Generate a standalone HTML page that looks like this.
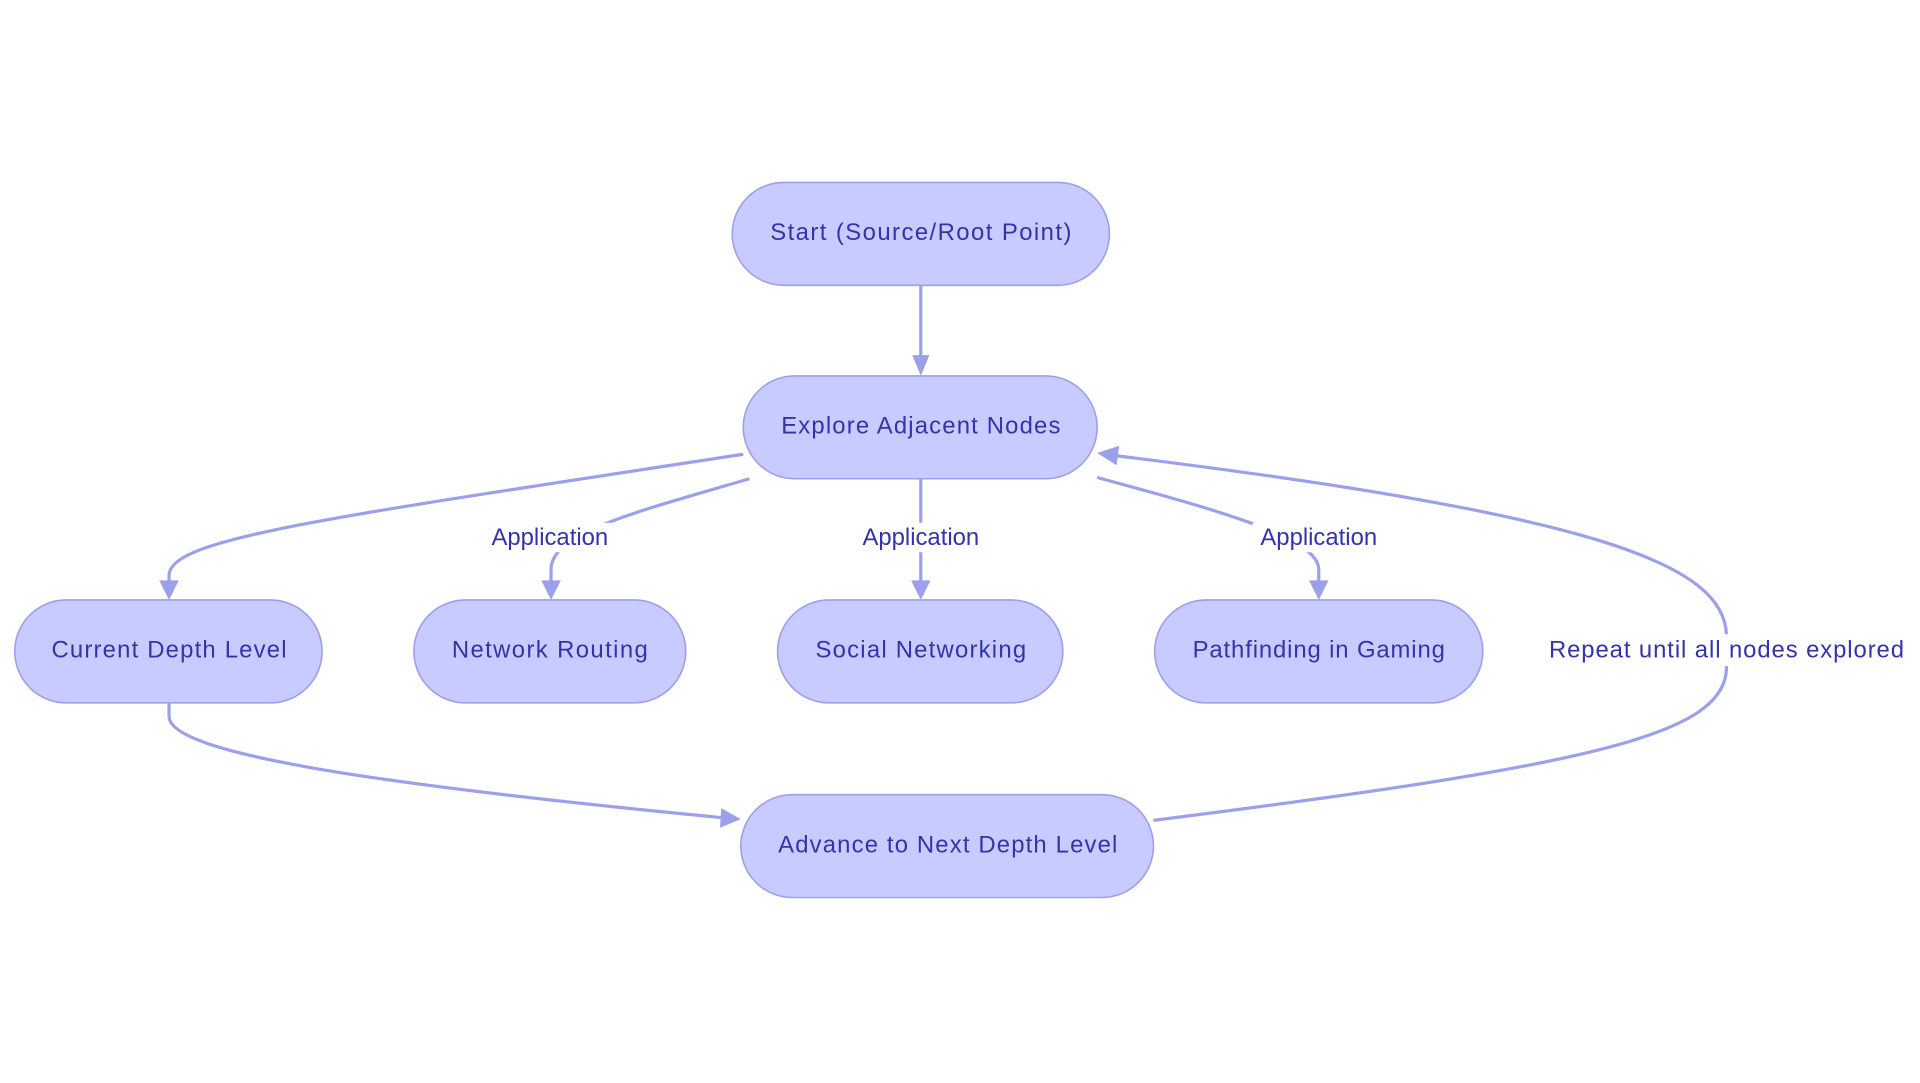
<!DOCTYPE html>
<html><head><meta charset="utf-8"><style>
html,body{margin:0;padding:0;background:#fff;width:1920px;height:1083px;overflow:hidden}
svg{display:block}
text{font-family:"Liberation Sans",sans-serif;font-size:19.5px;fill:#3333aa;text-anchor:middle;dominant-baseline:central}
.n{fill:#c8cbff;stroke:#9ca0ea;stroke-width:1.3}
.e{fill:none;stroke:#9ca0ea;stroke-width:2.6}
</style></head><body>
<svg width="1920" height="1083" viewBox="0 0 1568 884.5" xmlns="http://www.w3.org/2000/svg">
<defs><marker id="a" viewBox="0 0 10 10" refX="9" refY="5" markerWidth="6.5" markerHeight="6.5" orient="auto" markerUnits="userSpaceOnUse" overflow="visible"><path d="M0,0 L10,5 L0,10 z" fill="#9ca0ea" transform="scale(1.9) translate(-4.5,-2.5)"/></marker></defs>
<g>
<path class="e" d="M752,233 L752,294" />
<path d="M745,290 L759,290 L752,307 z" fill="#9ca0ea"/>
<path class="e" d="M607,371 C260,424 138,440 138,470 L138,478"/>
<path d="M130,474 L146,474 L138,490 z" fill="#9ca0ea"/>
<path class="e" d="M612,391 C520,418 450,435 450,465 L450,478"/>
<path d="M442,474 L458,474 L450,490 z" fill="#9ca0ea"/>
<path class="e" d="M752,391 L752,478"/>
<path d="M744,474 L760,474 L752,490 z" fill="#9ca0ea"/>
<path class="e" d="M896,390 C1000,418 1077,440 1077,465 L1077,478"/>
<path d="M1069,474 L1085,474 L1077,490 z" fill="#9ca0ea"/>
<path class="e" d="M138,574 L138,585 C138,615 300,640 592,668"/>
<path d="M589,660 L605,669 L588,676 z" fill="#9ca0ea"/>
<path class="e" d="M942,670 C1300,625 1410,600 1410,545 L1410,520 C1410,460 1300,420 910,372"/>
<path d="M914,364 L896,370 L912,380 z" fill="#9ca0ea"/>
</g>
<rect x="395" y="427" width="108" height="24" fill="#fff"/><text x="449" y="439">Application</text>
<rect x="698" y="427" width="108" height="24" fill="#fff"/><text x="752" y="439">Application</text>
<rect x="1023" y="427" width="108" height="24" fill="#fff"/><text x="1077" y="439">Application</text>
<rect x="1264" y="518" width="292" height="26" fill="#fff"/><text x="1410" y="531" textLength="290">Repeat until all nodes explored</text>
<rect class="n" x="598" y="149" width="308" height="84" rx="42"/><text x="752" y="190" textLength="246">Start (Source/Root Point)</text>
<rect class="n" x="607" y="307" width="289" height="84" rx="42"/><text x="752" y="348" textLength="228">Explore Adjacent Nodes</text>
<rect class="n" x="12" y="490" width="251" height="84" rx="42"/><text x="138" y="531" textLength="192">Current Depth Level</text>
<rect class="n" x="338" y="490" width="222" height="84" rx="42"/><text x="449" y="531" textLength="160">Network Routing</text>
<rect class="n" x="635" y="490" width="233" height="84" rx="42"/><text x="752" y="531" textLength="172">Social Networking</text>
<rect class="n" x="943" y="490" width="268" height="84" rx="42"/><text x="1077" y="531" textLength="206">Pathfinding in Gaming</text>
<rect class="n" x="605" y="649" width="337" height="84" rx="42"/><text x="774" y="690" textLength="277">Advance to Next Depth Level</text>
</svg>
</body></html>
